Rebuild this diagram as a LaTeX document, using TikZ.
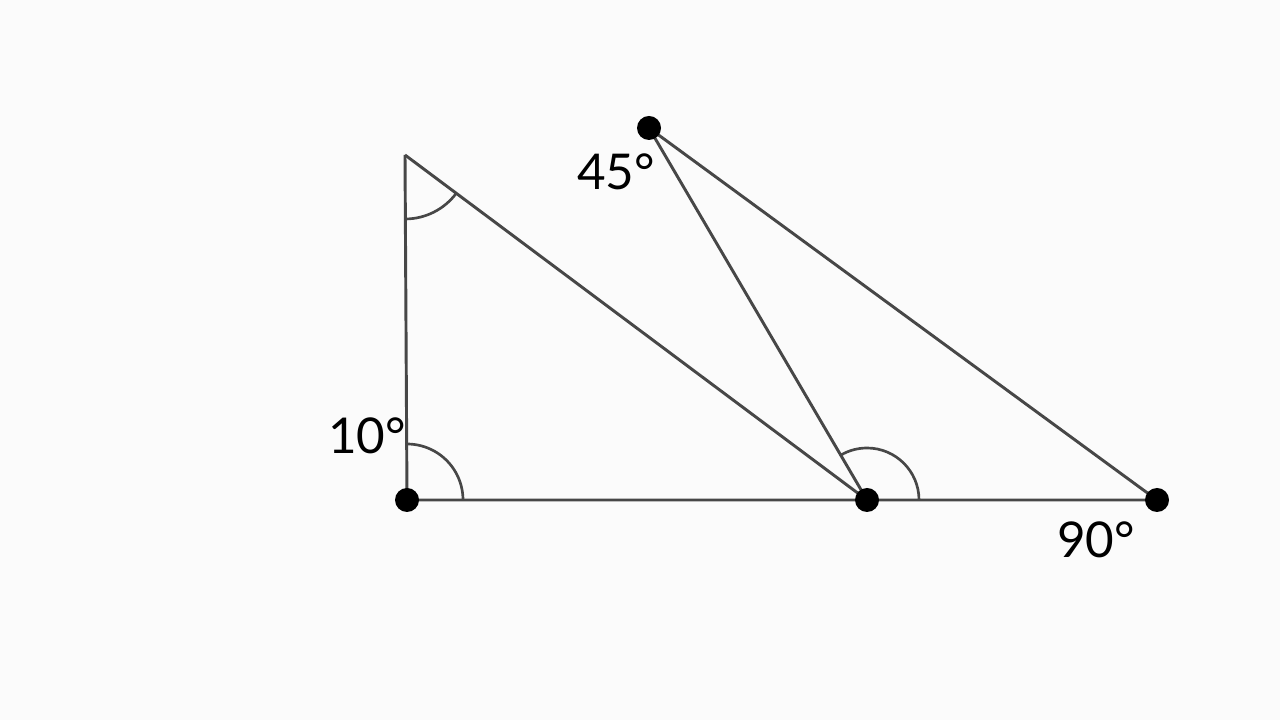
\documentclass[tikz,border=0pt]{standalone}
\usepackage{fontspec}
\setmainfont{Lato}
\usetikzlibrary{angles}

\definecolor{linegrey}{HTML}{474747}
\definecolor{paper}{HTML}{FBFBFB}

\begin{document}
\begin{tikzpicture}[x=0.75pt, y=0.75pt, line width=2.2pt, font=\fontsize{37}{40}\selectfont,
  dot/.style={circle, fill=black, inner sep=0pt, minimum size=18pt},
  mark arc/.style={draw=linegrey, line width=2pt}]

\fill[paper] (0,0) rectangle (1280,720);
\useasboundingbox (0,0) rectangle (1280,720);

\coordinate (A) at (407,220);
\coordinate (T) at (405,565);
\coordinate (B) at (867,220);
\coordinate (C) at (1157,220);
\coordinate (D) at (649,592);

\begin{scope}[linegrey]
\draw (T) -- (A) -- (C);
\draw (T) -- (B);
\draw (D) -- (B);
\draw (D) -- (C);
\end{scope}

\pic[mark arc, angle radius=48pt] {angle = A--T--B};
\pic[mark arc, angle radius=42pt] {angle = B--A--T};
\pic[mark arc, angle radius=39pt] {angle = C--B--D};

\foreach \p in {A, B, C, D}
\node[dot] (dot\p) at (\p) {};

\node (lblA) at (367,284) {10°};
\node (lblD) at (616,548) {45°};
\node (lblC) at (1096,180) {90°};

\end{tikzpicture}
\end{document}
